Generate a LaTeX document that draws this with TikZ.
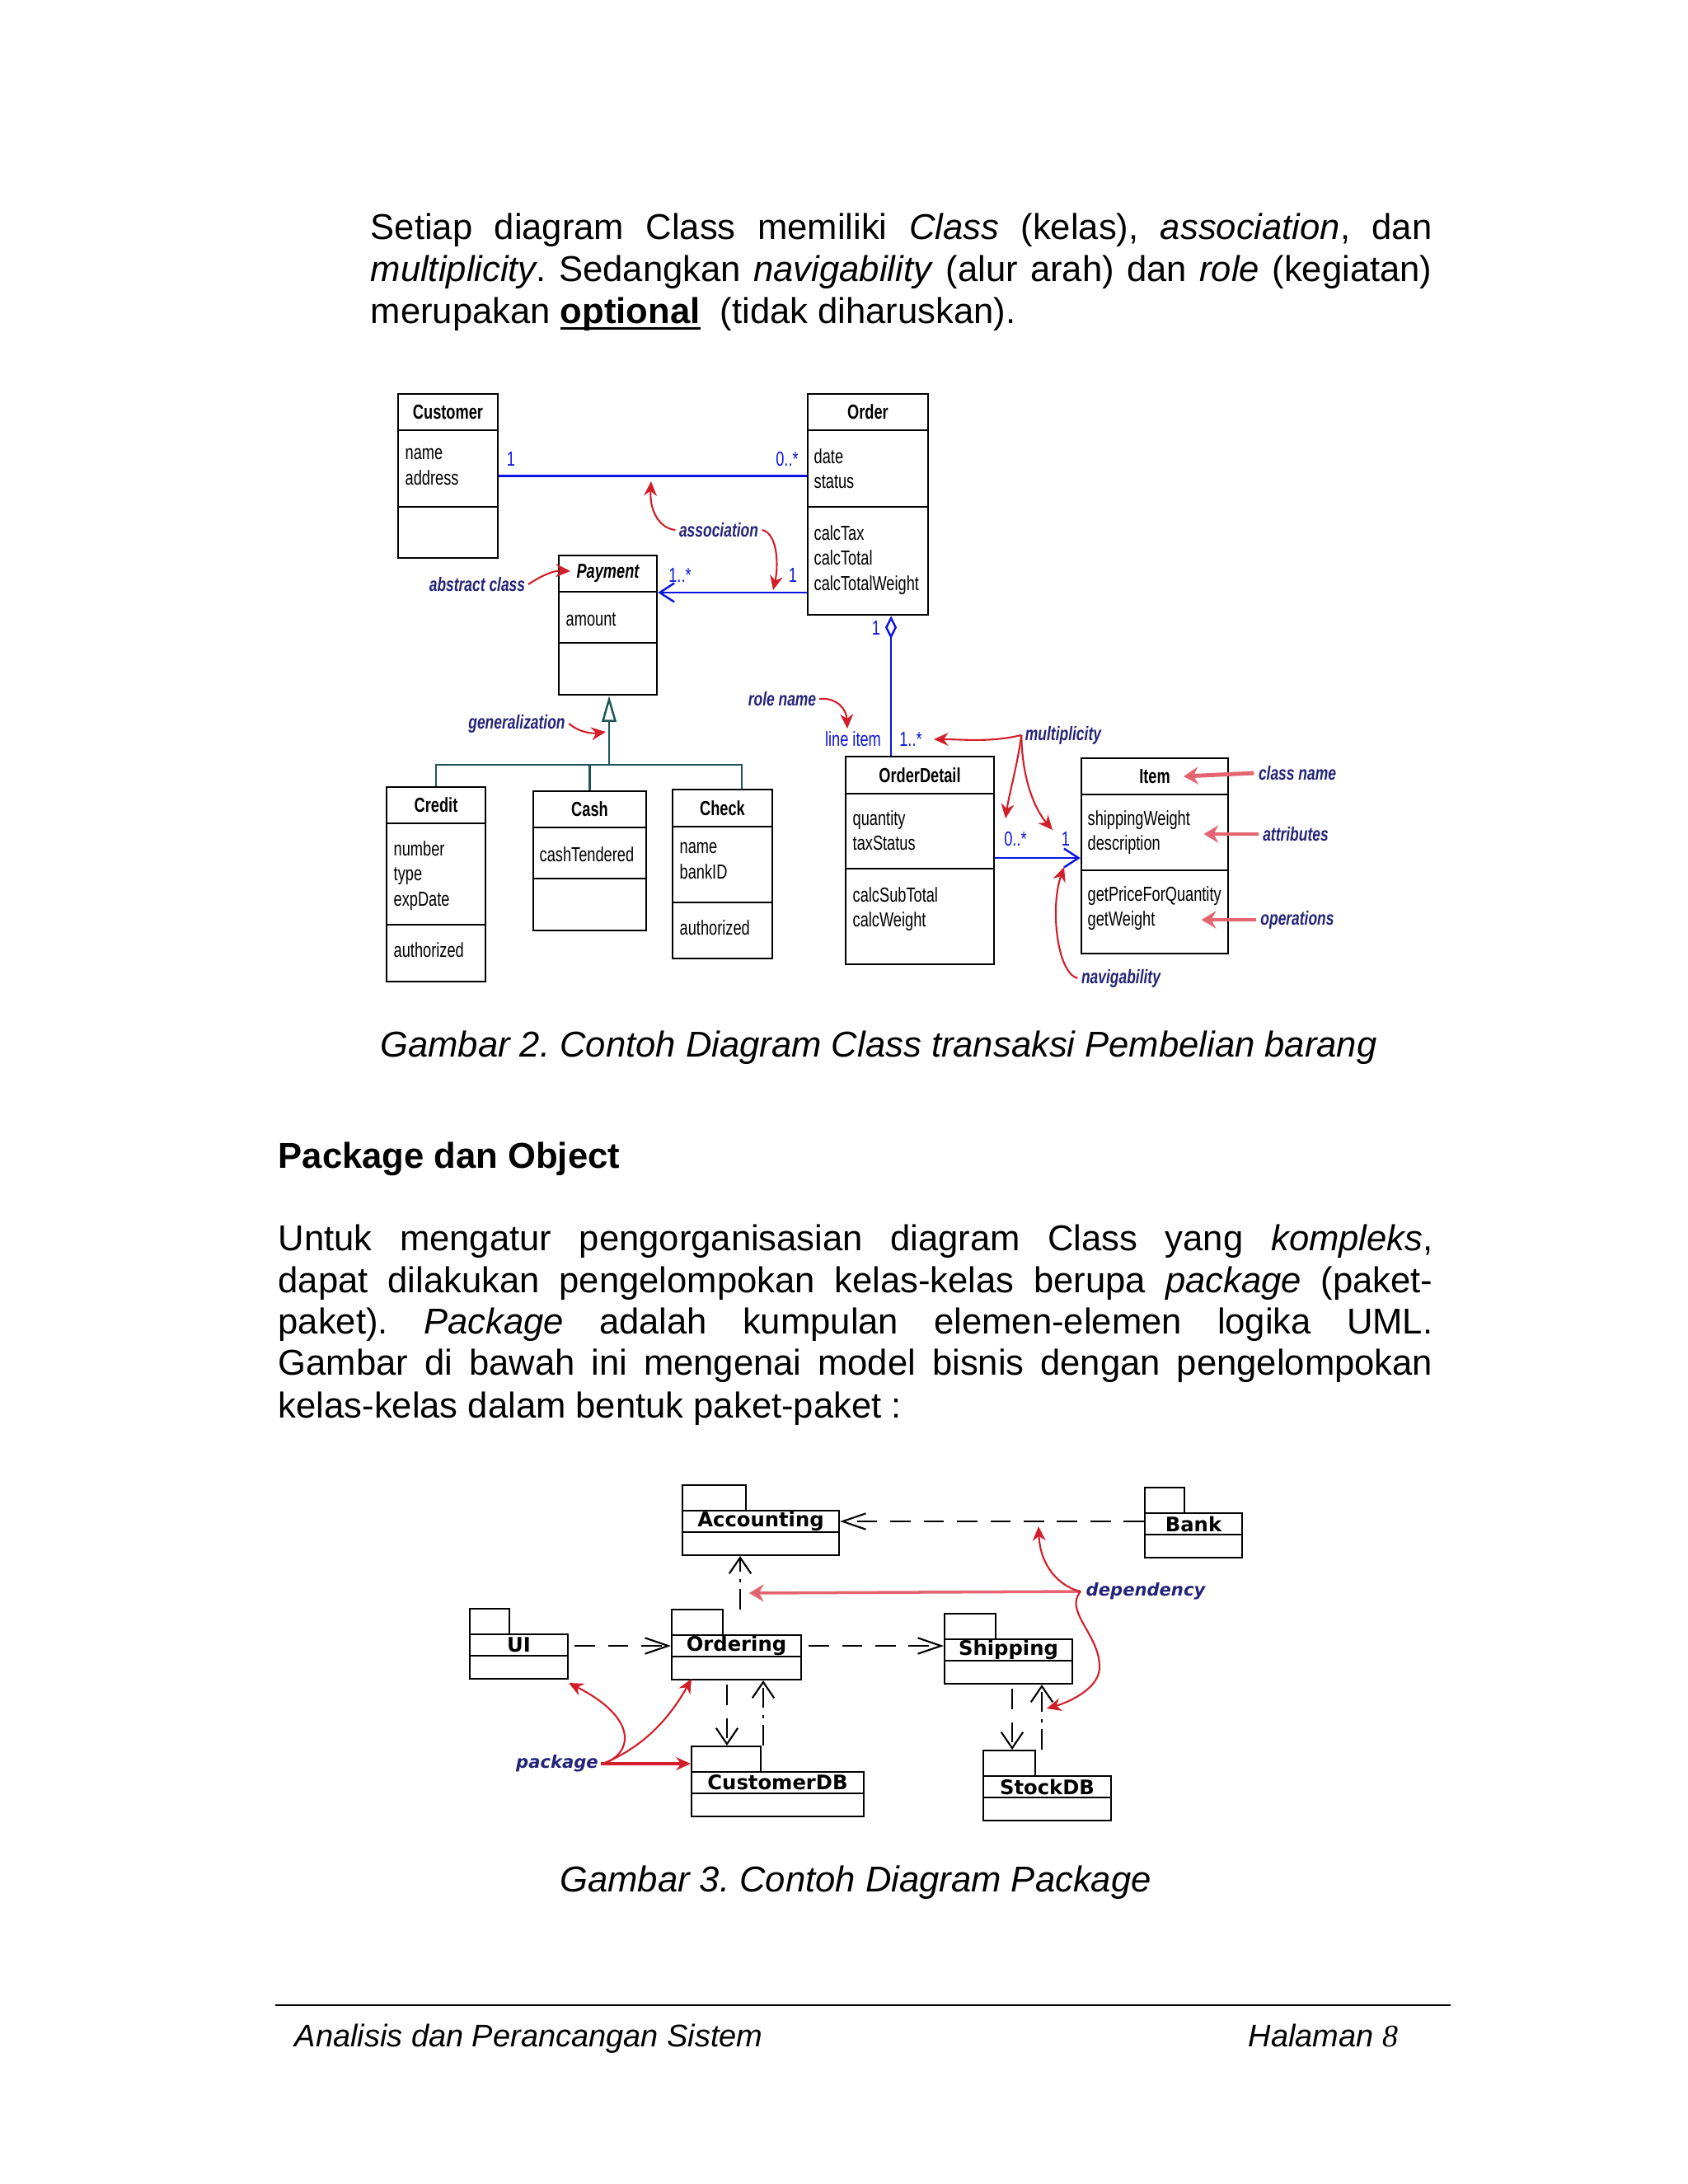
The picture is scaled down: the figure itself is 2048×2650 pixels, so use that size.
\documentclass[tikz,border=0pt]{standalone}
\usepackage{fontspec}
\setmainfont{Liberation Sans}
\newfontfamily\umlfont[FakeStretch=0.74]{Liberation Sans}
\newfontfamily\pkgfont{DejaVu Sans}
\newfontfamily\pagenumfont{Liberation Serif}
\usetikzlibrary{arrows.meta,positioning,calc,fit}
\frenchspacing

\definecolor{assocblue}{RGB}{10,20,225}
\definecolor{notenavy}{RGB}{35,35,120}
\definecolor{notered}{RGB}{210,30,40}
\definecolor{notepink}{RGB}{228,100,112}
\definecolor{genteal}{RGB}{30,85,85}

\tikzset{
  body/.style={font=\fontsize{12.4}{14.5}\selectfont, inner sep=0pt, anchor=base west},
  figcaption/.style={font=\fontsize{12.4}{14.5}\selectfont\itshape, inner sep=0pt, anchor=base},
  classbox/.style={draw, line width=0.7pt, inner sep=0pt},
  classtitle/.style={font=\umlfont\fontsize{7}{8.6}\selectfont\bfseries, inner sep=0pt},
  classtext/.style={font=\umlfont\fontsize{7}{8.65}\selectfont, align=left, inner sep=0pt,
    anchor=north west, execute at begin node={\rule{0pt}{5.2pt}}},
  mult/.style={font=\umlfont\fontsize{7}{8}\selectfont, text=assocblue, inner sep=0pt},
  note/.style={font=\umlfont\fontsize{6.7}{8}\selectfont\bfseries\itshape, text=notenavy, inner sep=0pt},
  pkgnote/.style={font=\pkgfont\fontsize{6}{7}\selectfont\bfseries\itshape, text=notenavy, inner sep=0pt},
  assoc/.style={draw=assocblue, line width=0.7pt},
  genline/.style={draw=genteal, line width=0.7pt},
  noteline/.style={draw=notered, line width=0.6pt, -{Stealth[length=5pt,width=4.5pt]}},
  notebold/.style={draw=notepink, line width=1.4pt, -{Stealth[length=5pt,width=6pt]}},
  pkgline/.style={line width=0.6pt},
  pkgbox/.style={draw, line width=0.6pt, inner sep=0pt},
  pkgname/.style={font=\pkgfont\fontsize{6.9}{8}\selectfont\bfseries, inner sep=0pt},
  dep/.style={line width=0.6pt, dash pattern=on 7pt off 4.5pt, -{Straight Barb[length=8pt,width=5.5pt]}},
  depdown/.style={line width=0.6pt, dash pattern=on 7pt off 4.5pt, -{Straight Barb[length=5.5pt,width=7.5pt]}},
  depup/.style={line width=0.6pt, dash pattern=on 7pt off 2.5pt on 1pt off 2.5pt, -{Straight Barb[length=5.5pt,width=7.5pt]}},
}

% class box: id, x1, y1, x2, y2, header line, attribute line, title
\newcommand{\umlclass}[8]{%
  \node[classbox, fit={(#2,#3) (#4,#5)}] (#1) {};
  \draw[line width=0.7pt] (#2,#6) -- (#4,#6);
  \draw[line width=0.7pt] (#2,#7) -- (#4,#7);
  \node[classtitle] (#1-title) at ($(#2,#3)!0.5!(#4,#6)$) {#8};
}
% package: id, x1, tab top, tab width, x2, name
\newcommand{\umlpackage}[6]{%
  \pgfmathsetmacro\pkgtop{#3+31}%
  \pgfmathsetmacro\pkgmid{#3+57}%
  \pgfmathsetmacro\pkgbot{#3+85}%
  \pgfmathsetmacro\pkgtab{#2+#4}%
  \node[pkgbox, fit={(#2,#3) (\pkgtab,\pkgtop)}] (#1-tab) {};
  \node[pkgbox, fit={(#2,\pkgtop) (#5,\pkgbot)}] (#1) {};
  \draw[pkgline] (#2,\pkgmid) -- (#5,\pkgmid);
  \node[pkgname] (#1-name) at ($(#2,\pkgtop)!0.5!(#5,\pkgmid)$) {#6};
}
\newcommand{\thickul}[1]{\setbox0\hbox{#1}\rlap{\rule[-2.4pt]{\wd0}{0.9pt}}\box0}

\begin{document}
\begin{tikzpicture}[x=0.01cm, y=-0.01cm]
  \fill[white] (0,0) rectangle (2048,2650);
  \useasboundingbox (0,0) rectangle (2048,2650);

  % Intro paragraph
  \node[body] (intro1) at (449,290) {\makebox[12.87cm][s]{Setiap diagram Class memiliki \textit{Class} (kelas), \textit{association}, dan}};
  \node[body] (intro2) at (449,341) {\makebox[12.87cm][s]{\textit{multiplicity}. Sedangkan \textit{navigability} (alur arah) dan \textit{role} (kegiatan)}};
  \node[body] (intro3) at (449,392) {merupakan \thickul{\textbf{optional}}\ \ (tidak diharuskan).};

  % Classes
  \umlclass{customer}{483}{478}{604}{677}{522}{615}{Customer}
  \umlclass{order}{980}{478}{1126}{746}{522}{615}{Order}
  \umlclass{payment}{678}{674}{797}{843}{718}{780}{\itshape Payment}
  \umlclass{credit}{469}{955}{589}{1191}{999}{1122}{Credit}
  \umlclass{cash}{647}{960}{784}{1129}{1004}{1066}{Cash}
  \umlclass{check}{816}{958}{937}{1163}{1003}{1095}{Check}
  \umlclass{orderdetail}{1026}{918}{1206}{1170}{963}{1054}{OrderDetail}
  \umlclass{item}{1312}{920}{1490}{1157}{964}{1056}{Item}

  \node[classtext] (customer-attr) at (491,544) {name\\address};
  \node[classtext] (order-attr) at (987,544) {date\\status};
  \node[classtext] (order-ops) at (987,637) {calcTax\\calcTotal\\calcTotalWeight};
  \node[classtext] (payment-attr) at (686,740) {amount};
  \node[classtext] (credit-attr) at (477,1020) {number\\type\\expDate};
  \node[classtext] (credit-ops) at (477,1142) {authorized};
  \node[classtext] (cash-attr) at (654,1026) {cashTendered};
  \node[classtext] (check-attr) at (824,1022) {name\\bankID};
  \node[classtext] (check-ops) at (824,1115) {authorized};
  \node[classtext] (orderdetail-attr) at (1034,983) {quantity\\taxStatus};
  \node[classtext] (orderdetail-ops) at (1034,1076) {calcSubTotal\\calcWeight};
  \node[classtext] (item-attr) at (1319,983) {shippingWeight\\description};
  \node[classtext] (item-ops) at (1319,1075) {getPriceForQuantity\\getWeight};

  % Associations
  \coordinate (paylevel) at (0,719);
  \coordinate (aggx) at (1081,0);
  \coordinate (odlevel) at (0,1041);
  \draw[assoc] (customer.east) -- (customer.east -| order.west);
  \draw[assoc, {Straight Barb[length=5pt,width=6.5pt]}-] (payment.east |- paylevel) -- (order.west |- paylevel);
  \draw[assoc, -{Diamond[open,length=8pt,width=4pt]}] (orderdetail.north -| aggx) -- (order.south -| aggx);
  \draw[assoc, -{Straight Barb[length=5pt,width=6.5pt]}] (orderdetail.east |- odlevel) -- (item.west |- odlevel);

  % Generalization
  \coordinate (genbar) at (739,928);
  \draw[genline, -{Triangle[open,length=9pt,width=5pt]}] (genbar) -- (genbar |- payment.south);
  \draw[genline] (credit.north) |- (genbar);
  \draw[genline] (cash.north) |- (genbar);
  \draw[genline] ([xshift=0.235cm]check.north) |- (genbar);

  % Multiplicities and role
  \node[mult] (m-cust) at (620,557) {1};
  \node[mult] (m-order) at (955,557) {0..*};
  \node[mult] (m-pay) at (825,698) {1..*};
  \node[mult] (m-payorder) at (962,698) {1};
  \node[mult] (m-agg) at (1063,762) {1};
  \node[mult] (role-line) at (1035,897) {line item};
  \node[mult] (m-detail) at (1105,897) {1..*};
  \node[mult] (m-od) at (1232,1018) {0..*};
  \node[mult] (m-item) at (1293,1018) {1};

  % Notes
  \node[note] (n-assoc) at (872,643) {association};
  \node[note] (n-abstract) at (579,709) {abstract class};
  \node[note] (n-role) at (949,848) {role name};
  \node[note] (n-gen) at (627,878) {generalization};
  \node[note] (n-mult) at (1290,892) {multiplicity};
  \node[note] (n-classname) at (1574,938) {class name};
  \node[note] (n-attr) at (1572,1012) {attributes};
  \node[note] (n-ops) at (1574,1116) {operations};
  \node[note] (n-nav) at (1360,1187) {navigability};

  \coordinate (a-custorder) at (790,584);
  \coordinate (a-payorder) at (938,716);
  \coordinate (a-payment) at (692,693);
  \coordinate (a-lineitem) at (1028,884);
  \coordinate (a-gen) at (735,888);
  \coordinate (a-detail) at (1133,897);
  \coordinate (a-od) at (1220,993);
  \coordinate (a-item) at (1277,1007);
  \coordinate (a-nav) at (1291,1052);
  \draw[noteline] ([xshift=-0.04cm]n-assoc.west) .. controls (800,641) and (788,620) .. (a-custorder);
  \draw[noteline] ([xshift=0.04cm]n-assoc.east) .. controls (945,648) and (944,690) .. (a-payorder);
  \draw[noteline] ([xshift=0.03cm]n-abstract.east) .. controls (655,700) and (670,692) .. (a-payment);
  \draw[noteline] ([xshift=0.03cm]n-role.east) .. controls (1015,846) and (1027,860) .. (a-lineitem);
  \draw[noteline] ([xshift=0.04cm]n-gen.east) .. controls (705,890) and (720,890) .. (a-gen);
  \draw[noteline] ([xshift=-0.04cm]n-mult.west) .. controls (1200,901) and (1170,897) .. (a-detail);
  \draw[noteline] ([xshift=-0.04cm]n-mult.west) .. controls (1234,930) and (1224,965) .. (a-od);
  \draw[noteline] ([xshift=-0.04cm]n-mult.west) .. controls (1240,950) and (1258,985) .. (a-item);
  \draw[noteline] ([xshift=-0.04cm]n-nav.west) .. controls (1282,1180) and (1274,1100) .. (a-nav);
  \draw[notebold] ([xshift=-0.05cm]n-classname.west) -- (item-title.east -| 1436,0);
  \draw[notebold] ([xshift=-0.05cm]n-attr.west) -- ++(-0.66cm,0);
  \draw[notebold] ([xshift=-0.05cm]n-ops.west) -- ++(-0.66cm,0);

  % Caption 2
  \node[figcaption] (cap2) at (1066,1282) {Gambar 2. Contoh Diagram Class transaksi Pembelian barang};

  % Package section
  \node[body, font=\fontsize{12.4}{14.5}\selectfont\bfseries] (pkghead) at (337,1417) {Package dan Object};
  \node[body] (para1) at (337,1517) {\makebox[14cm][s]{Untuk mengatur pengorganisasian diagram Class yang \textit{kompleks},}};
  \node[body] (para2) at (337,1568) {\makebox[14cm][s]{dapat dilakukan pengelompokan kelas-kelas berupa \textit{package} (paket-}};
  \node[body] (para3) at (337,1618) {\makebox[14cm][s]{paket). \textit{Package} adalah kumpulan elemen-elemen logika UML.}};
  \node[body] (para4) at (337,1668) {\makebox[14cm][s]{Gambar di bawah ini mengenai model bisnis dengan pengelompokan}};
  \node[body] (para5) at (337,1720) {kelas-kelas dalam bentuk paket-paket :};

  % Packages
  \umlpackage{acc}{828}{1802}{77}{1018}{Accounting}
  \umlpackage{bank}{1389}{1805}{48}{1507}{Bank}
  \umlpackage{ui}{570}{1952}{48}{689}{UI}
  \umlpackage{ordering}{815}{1953}{62}{972}{Ordering}
  \umlpackage{shipping}{1146}{1958}{62}{1301}{Shipping}
  \umlpackage{custdb}{839}{2119}{84}{1048}{CustomerDB}
  \umlpackage{stockdb}{1193}{2124}{63}{1348}{StockDB}

  % Dependencies
  \coordinate (ordaccx) at (898,1953);
  \coordinate (ocdownx) at (882,0);
  \coordinate (ocupx) at (926,0);
  \coordinate (ssdownx) at (1228,0);
  \coordinate (ssupx) at (1264,0);
  \draw[dep] (acc-name -| bank.west) -- (acc-name -| acc.east);
  \draw[depup] (ordaccx) -- (ordaccx |- acc.south);
  \draw[dep] ([xshift=0.07cm]ordering-name -| ui.east) -- (ordering-name -| ordering.west);
  \draw[dep] ([xshift=0.08cm]ordering-name -| ordering.east) -- (ordering-name -| shipping.west);
  \draw[depdown] ([yshift=-0.05cm]ordering.south -| ocdownx) -- (custdb-tab.north -| ocdownx);
  \draw[depup] (custdb-tab.north -| ocupx) -- (ordering.south -| ocupx);
  \draw[depdown] ([yshift=-0.05cm]shipping.south -| ssdownx) -- (stockdb-tab.north -| ssdownx);
  \draw[depup] (stockdb-tab.north -| ssupx) -- (shipping.south -| ssupx);

  % Package notes
  \node[pkgnote] (n-dep) at (1390,1931) {dependency};
  \node[pkgnote] (n-pkg) at (676,2140) {package};
  \coordinate (a-orderacc) at (909,1933);
  \coordinate (a-bankacc) at (1260,1852);
  \coordinate (a-stock) at (1270,2073);
  \coordinate (a-ui) at (690,2042);
  \coordinate (a-ordering) at (839,2037);
  \draw[notebold, line width=1pt] ([xshift=-0.06cm]n-dep.west) -- (a-orderacc);
  \draw[noteline] ([xshift=-0.06cm]n-dep.west) .. controls (1285,1925) and (1262,1900) .. (a-bankacc);
  \draw[noteline] ([xshift=-0.06cm]n-dep.west) .. controls (1290,1955) and (1336,1985) .. (1334,2025)
    .. controls (1332,2050) and (1295,2066) .. (a-stock);
  \draw[noteline, line width=1pt] ([xshift=0.03cm]n-pkg.east) -- (custdb.west |- n-pkg.east);
  \draw[noteline] ([xshift=0.05cm]n-pkg.east) .. controls (768,2128) and (775,2085) .. (a-ui);
  \draw[noteline] ([xshift=0.05cm]n-pkg.east) .. controls (785,2118) and (815,2080) .. (a-ordering);

  % Caption 3
  \node[figcaption] (cap3) at (1038,2295) {Gambar 3. Contoh Diagram Package};

  % Footer
  \draw[line width=0.8pt] (334,2433) -- (1760,2433);
  \node[body, font=\fontsize{10.8}{13}\selectfont\itshape] (foot-left) at (357,2483) {Analisis dan Perancangan Sistem};
  \node[body, anchor=base east, font=\fontsize{10.8}{13}\selectfont\itshape] (foot-right) at (1697,2483) {Halaman {\pagenumfont 8}};
\end{tikzpicture}
\end{document}
